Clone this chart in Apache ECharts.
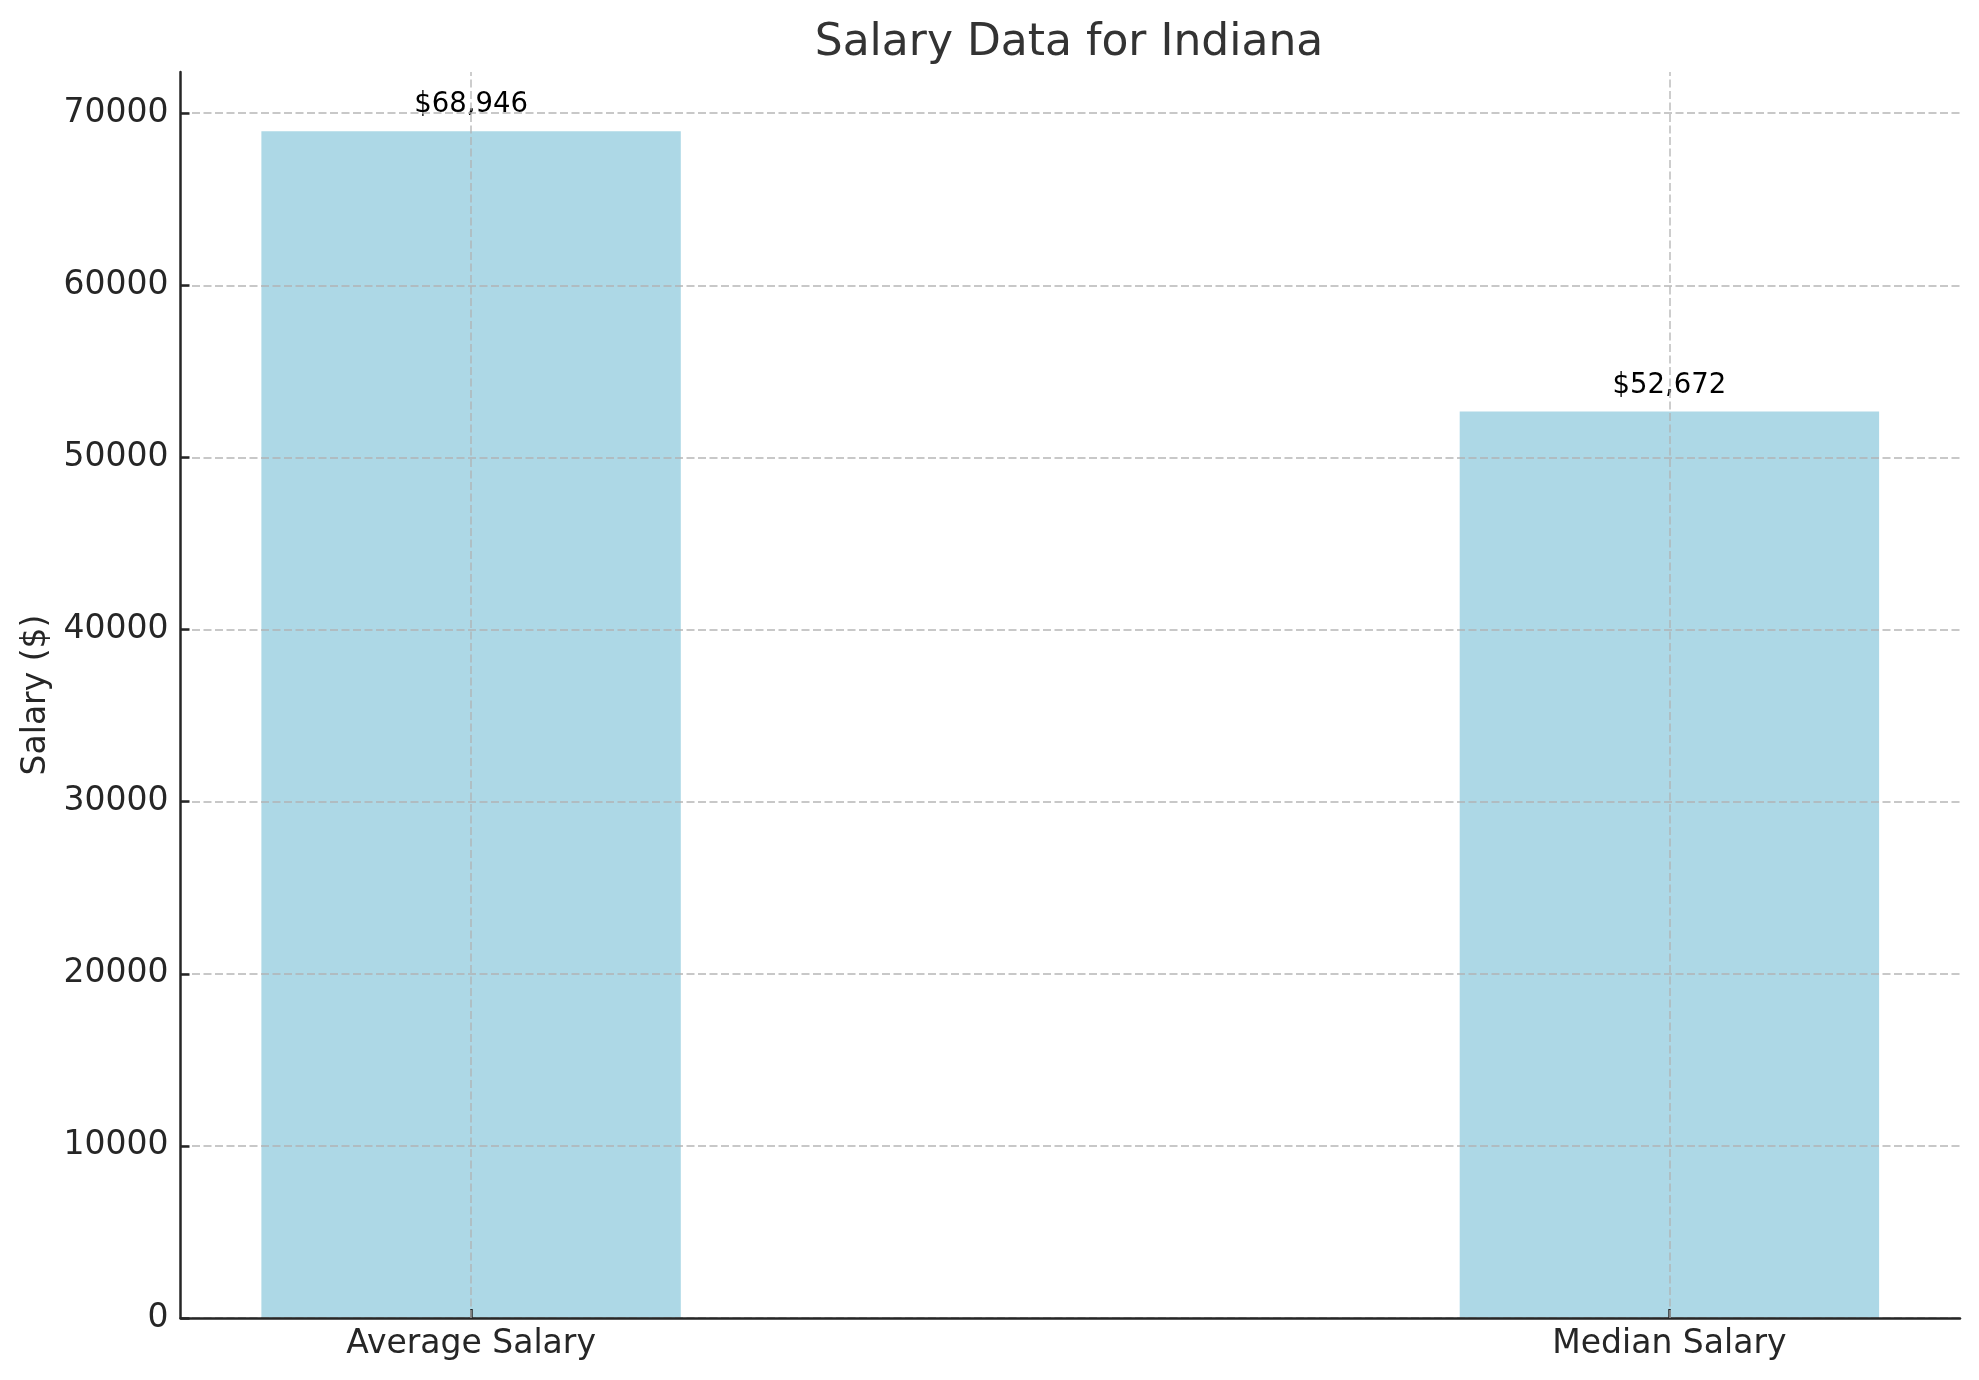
<!DOCTYPE html>
<html>
<head>
<meta charset="utf-8">
<script src="https://cdn.jsdelivr.net/npm/echarts@6/dist/echarts.min.js"></script>
<style>
html,body{margin:0;padding:0;background:#fff;}
#chart{width:1979px;height:1380px;}
</style>
</head>
<body>
<div id="chart"></div>
<script>
const categories = ['Average Salary', 'Median Salary'];
const salaries = [68946, 52672];
const yTicks = [0, 10000, 20000, 30000, 40000, 50000, 60000, 70000];
const titleText = 'Salary Data for Indiana';
const yAxisName = 'Salary ($)';

const positions = categories.map((c, i) => i);
const barData = positions.map((p, i) => [p, salaries[i]]);
const yMax = Math.max(...salaries) * 1.05;
const FONT = 'DejaVu Sans';
const gridColor = 'rgba(176,176,176,0.7)';

const chart = echarts.init(document.getElementById('chart'), null, {renderer: 'canvas'});
chart.setOption({
  animation: false,
  backgroundColor: '#ffffff',
  title: {
    text: titleText,
    left: 1064,
    textAlign: 'center',
    top: 17,
    textStyle: {fontFamily: FONT, fontSize: 44, fontWeight: 'normal', color: '#333333'}
  },
  grid: {left: 180.5, right: 19, top: 72, bottom: 62, containLabel: false},
  xAxis: {
    type: 'value',
    min: -0.2425,
    max: 1.2425,
    z: 5,
    axisLine: {show: true, onZero: false, lineStyle: {color: '#262626', width: 2.5}},
    axisTick: {show: true, inside: true, length: 9, customValues: positions, lineStyle: {color: '#262626', width: 2.5}},
    axisLabel: {
      show: true, margin: 10, customValues: positions,
      fontFamily: FONT, fontSize: 33, color: '#262626',
      formatter: v => (Number.isInteger(v) && categories[v] !== undefined) ? categories[v] : ''
    },
    splitLine: {show: false}
  },
  yAxis: {
    type: 'value',
    min: 0,
    max: yMax,
    interval: 10000,
    z: 5,
    name: yAxisName,
    nameLocation: 'middle',
    nameGap: 128,
    nameTextStyle: {fontFamily: FONT, fontSize: 33, color: '#262626'},
    axisLine: {show: true, onZero: false, lineStyle: {color: '#262626', width: 2.5}},
    axisTick: {show: true, inside: true, length: 9, customValues: yTicks, lineStyle: {color: '#262626', width: 2.5}},
    axisLabel: {
      show: true, margin: 12, customValues: yTicks,
      fontFamily: FONT, fontSize: 33, color: '#262626',
      formatter: v => String(v)
    },
    splitLine: {show: true, lineStyle: {color: gridColor, width: 1.8, type: [8, 3.5]}}
  },
  series: [{
    type: 'bar',
    data: barData,
    barWidth: '35%',
    itemStyle: {color: '#ADD8E6'},
    label: {
      show: true,
      position: 'top',
      distance: 12,
      fontFamily: FONT,
      fontSize: 27.5,
      color: '#000000',
      formatter: p => '$' + p.value[1].toLocaleString('en-US')
    },
    markLine: {
      silent: true,
      symbol: 'none',
      z: 6,
      label: {show: false},
      lineStyle: {color: gridColor, width: 1.8, type: [8, 3.5]},
      data: positions.map(p => ({xAxis: p}))
    }
  }]
});
</script>
</body>
</html>
